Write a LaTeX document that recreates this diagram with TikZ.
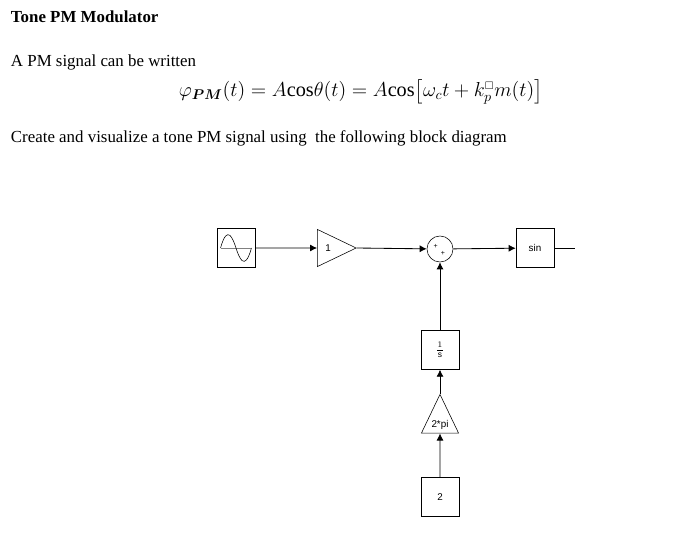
\documentclass[tikz,border=0pt]{standalone}
\usepackage{amsmath,amssymb}
\usepackage{fontspec}
\setmainfont{Liberation Serif}
\setsansfont{Liberation Sans}
\usetikzlibrary{arrows.meta}
\usetikzlibrary{shapes.geometric}

\tikzset{
  blk/.style={draw, fill=white, minimum width=0.95cm, minimum height=0.97cm, inner sep=0pt, font=\sffamily\scriptsize},
  gain/.style={draw, fill=white, isosceles triangle, isosceles triangle stretches, minimum width=0.93cm, minimum height=0.97cm, inner sep=0pt, font=\sffamily\scriptsize},
  sig/.style={-{Latex[length=5pt,width=5pt]}, semithick},
}

\begin{document}
\begin{tikzpicture}[x=0.025cm, y=-0.025cm]
    \useasboundingbox (0, 0) rectangle (700, 547);
    % text above the diagram
    \node[anchor=west, font=\large\bfseries] (title) at (6, 17) {Tone PM Modulator};
    \node[anchor=west, font=\large] (intro) at (6, 62) {A PM signal can be written};
    \node[anchor=west, font=\Large] (eqn) at (174, 92)
      {$\varphi_{\boldsymbol{PM}}(t) = A\mathrm{cos}\theta(t) = A\mathrm{cos}\bigl[\omega_c t + k_p^{\scriptscriptstyle\square} m(t)\bigr]$};
    \node[anchor=west, font=\large] (task) at (6, 138) {Create and visualize a tone PM signal using \ the following block diagram};
    % blocks
    \node[blk] (src) at (236, 248) {};
    \draw[gray] ([xshift=-11pt]src.center) -- ([xshift=11pt]src.center);
    \draw[thin] ([xshift=-11pt]src.center) .. controls ([xshift=-6pt, yshift=18pt]src.center) and ([xshift=-2pt, yshift=6pt]src.center) .. (src.center)
      .. controls ([xshift=2pt, yshift=-6pt]src.center) and ([xshift=6pt, yshift=-18pt]src.center) .. ([xshift=11pt]src.center);
    \node[gain] (amp) at (328, 248) {1};
    \node[draw, circle, fill=white, minimum size=0.65cm, inner sep=0pt] (add) at (440, 249) {};
    \node[font=\sffamily\tiny] (plusa) at ([xshift=-3pt, yshift=2pt]add.center) {+};
    \node[font=\sffamily\tiny] (plusb) at ([xshift=2pt, yshift=-3pt]add.center) {+};
    \node[blk] (sine) at (535, 248) {sin};
    \coordinate (out) at (575, 248);
    \node[blk, font=\sffamily\small] (integ) at (440, 350) {$\frac{1}{\mathsf{s}}$};
    \node[gain, shape border rotate=90] (twopi) at (440, 425) {\raisebox{-3pt}{2*pi}};
    \node[blk] (const) at (440, 497) {2};
    % signals
    \draw[sig] (src) -- (amp);
    \draw[sig] (amp.apex) -- (add);
    \draw[sig] (add) -- (sine);
    \draw[semithick] (sine) -- (out);
    \draw[sig] (integ) -- (add);
    \draw[sig] (twopi.apex) -- (integ);
    \draw[sig] (const) -- (twopi);
\end{tikzpicture}
\end{document}
